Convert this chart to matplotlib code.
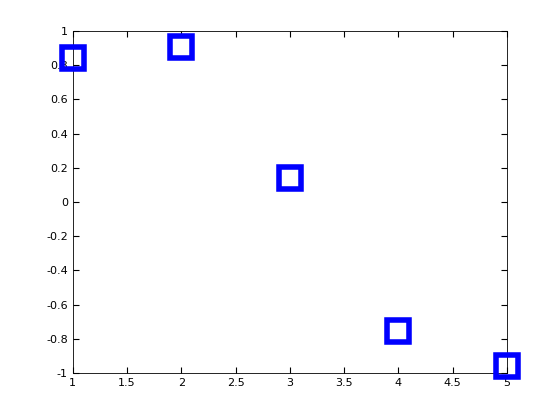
import matplotlib
matplotlib.use('Agg')
import matplotlib.pyplot as plt
import numpy as np

x = [1, 2, 3, 4, 5]
y = [0.841, 0.909, 0.141, -0.757, -0.959]

fig = plt.figure(figsize=(5.6, 4.2), dpi=100)
ax = fig.add_axes([0.130, 0.112, 0.775, 0.814])
ax.plot(x, y, linestyle='none', marker='s', markersize=16,
        markerfacecolor='none', markeredgecolor='#0000ff', markeredgewidth=4,
        clip_on=False, zorder=5)
ax.set_xlim(1, 5)
ax.set_ylim(-1, 1)
ax.set_xticks(np.arange(1, 5.01, 0.5))
ax.set_xticklabels(['1', '1.5', '2', '2.5', '3', '3.5', '4', '4.5', '5'])
ax.set_yticks(np.arange(-1, 1.01, 0.2))
ax.set_yticklabels(['-1', '-0.8', '-0.6', '-0.4', '-0.2', '0', '0.2', '0.4', '0.6', '0.8', '1'])
ax.tick_params(direction='in', top=True, right=True, labelsize=8, length=4)
for s in ax.spines.values():
    s.set_linewidth(0.6)
fig.savefig('out.png', dpi=100)
